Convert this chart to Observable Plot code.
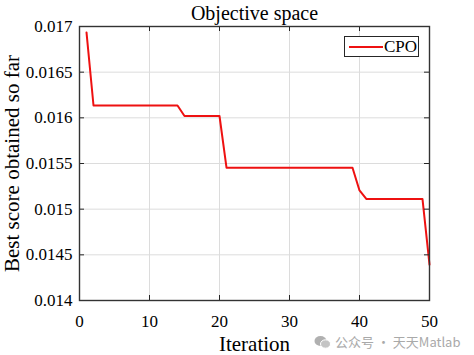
<!DOCTYPE html>
<html><head><meta charset="utf-8">
<script src="https://cdn.jsdelivr.net/npm/d3@7"></script>
<script src="https://cdn.jsdelivr.net/npm/@observablehq/plot@0.6"></script>
<style>
body{margin:0;background:#fff;}
#wrap{position:relative;width:474px;height:355px;overflow:hidden;font-family:"Liberation Serif",serif;}
#wrap svg text{font-family:"Liberation Serif",serif !important;font-variant:normal !important;}
#legend{position:absolute;left:344px;top:36px;width:75px;height:21px;border:1.2px solid #262626;background:#fff;box-sizing:border-box;font-size:17px;color:#000;}
#legend svg{position:absolute;left:3px;top:0;}
#legend span{position:absolute;left:39px;top:0px;line-height:20px;}
#wm{position:absolute;left:314px;top:332px;font-family:"Noto Sans CJK SC",sans-serif;font-size:13px;color:#a9a9a9;white-space:nowrap;}
</style></head>
<body><div id="wrap"></div>
<script>
const title = "Objective space";
const xLabel = "Iteration";
const yLabel = "Best score obtained so far";
const seriesName = "CPO";
const iteration = [1,2,3,4,5,6,7,8,9,10,11,12,13,14,15,16,17,18,19,20,21,22,23,24,25,26,27,28,29,30,31,32,33,34,35,36,37,38,39,40,41,42,43,44,45,46,47,48,49,50];
const bestScore = [0.016935,
 0.016135,0.016135,0.016135,0.016135,0.016135,0.016135,0.016135,0.016135,0.016135,0.016135,0.016135,0.016135,0.016135,
 0.01602,0.01602,0.01602,0.01602,0.01602,0.01602,
 0.015454,0.015454,0.015454,0.015454,0.015454,0.015454,0.015454,0.015454,0.015454,0.015454,0.015454,0.015454,0.015454,0.015454,0.015454,0.015454,0.015454,0.015454,0.015454,
 0.015205,
 0.015111,0.015111,0.015111,0.015111,0.015111,0.015111,0.015111,0.015111,0.015111,
 0.014392];
const xTicks = [0,10,20,30,40,50];
const yTicks = [0.014,0.0145,0.015,0.0155,0.016,0.0165,0.017];

const data = iteration.map((x,i)=>({x, y: bestScore[i]}));
const W = 474, H = 355, mt = 26, mr = 45, mb = 55, ml = 79;
const fh = H - mt - mb, fw = W - ml - mr, tk = 5;
const frameColor = "#262626";
const serif = "'Liberation Serif', serif";

const chart = Plot.plot({
  width: W, height: H,
  marginTop: mt, marginRight: mr, marginBottom: mb, marginLeft: ml,
  style: {fontFamily: serif, fontSize: "17px", background: "#fff", color: "#000"},
  x: {domain: [0, 50]},
  y: {domain: [0.014, 0.017]},
  marks: [
    Plot.gridX(xTicks, {stroke: "#dcdcdc", strokeOpacity: 1, strokeWidth: 1}),
    Plot.gridY(yTicks, {stroke: "#dcdcdc", strokeOpacity: 1, strokeWidth: 1}),
    Plot.line(data, {x: "x", y: "y", stroke: "#ee1111", strokeWidth: 2}),
    Plot.tickX(xTicks, {x: d => d, insetTop: fh - tk, stroke: frameColor}),
    Plot.tickX(xTicks, {x: d => d, insetBottom: fh - tk, stroke: frameColor}),
    Plot.tickY(yTicks, {y: d => d, insetRight: fw - tk, stroke: frameColor}),
    Plot.tickY(yTicks, {y: d => d, insetLeft: fw - tk, stroke: frameColor}),
    Plot.frame({stroke: "#333", strokeWidth: 1.4}),
    Plot.axisX({ticks: xTicks, tickSize: 0, tickPadding: 14, fontSize: 17, fontFamily: serif, label: xLabel, labelAnchor: "center", labelArrow: "none", labelOffset: 50}),
    Plot.axisY({ticks: yTicks, tickSize: 0, tickPadding: 7, fontSize: 17, fontFamily: serif, tickFormat: d => String(+d.toFixed(4)), label: yLabel, labelAnchor: "center", labelArrow: "none", labelOffset: 75}),
    Plot.text([title], {frameAnchor: "top", lineAnchor: "middle", dy: -13, fontSize: 20, fontFamily: serif, fill: "#000"})
  ]
});
const wrap = document.getElementById("wrap");
wrap.appendChild(chart);
// enlarge the axis titles to match the reference
chart.querySelectorAll("[aria-label='x-axis label'] text, [aria-label='y-axis label'] text").forEach(t => t.setAttribute("font-size", 21));
chart.querySelectorAll("g").forEach(g => { if (g.getAttribute("font-variant")) g.removeAttribute("font-variant"); });

const leg = document.createElement("div");
leg.id = "legend";
leg.innerHTML = `<svg width="36" height="20"><line x1="1" x2="35" y1="10" y2="10" stroke="#ee1111" stroke-width="2"/></svg><span>${seriesName}</span>`;
wrap.appendChild(leg);

const wm = document.createElement("div");
wm.id = "wm";
wm.innerHTML = `<svg width="17" height="14" style="vertical-align:-2px;margin-right:4px"><ellipse cx="6.5" cy="6" rx="6" ry="5" fill="#b0b0b0"/><ellipse cx="11.5" cy="9" rx="5" ry="4.2" fill="#c4c4c4" stroke="#fff" stroke-width="1"/></svg>公众号 · 天天Matlab`;
wrap.appendChild(wm);
</script>
</body></html>
